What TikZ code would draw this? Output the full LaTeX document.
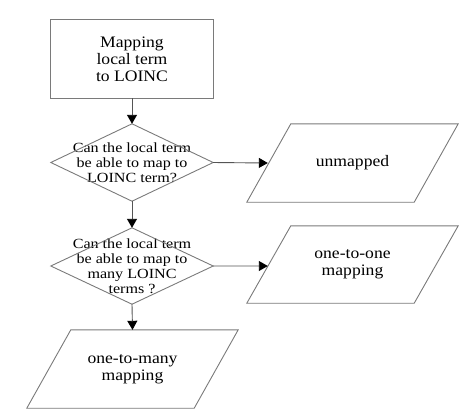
\documentclass[tikz,border=0pt]{standalone}
\usepackage{fontspec}
\setmainfont[FakeStretch=1.1]{Liberation Serif}
\newfontfamily\dfont[FakeStretch=1.15]{Liberation Serif}
\usetikzlibrary{arrows.meta,calc}
\definecolor{edge}{HTML}{7A7A7A}
\definecolor{arr}{HTML}{555555}
\tikzset{
  frame/.style={rectangle, inner sep=0pt, align=center},
  boxtxt/.style={font=\fontsize{16bp}{17bp}\selectfont},
  dtxt/.style={font=\dfont\fontsize{14bp}{15bp}\selectfont},
  outline/.style={draw=edge, line width=0.9bp},
  flow/.style={draw=arr, line width=0.9bp, -{Triangle[length=9bp,width=10bp,color=black]}}
}
\begin{document}
\begin{tikzpicture}[x=1bp,y=-1bp]
\useasboundingbox (0,0) rectangle (474,413);
% nodes (frames)
\node[frame, boxtxt, minimum width=162bp, minimum height=78bp] (b) at (132,59) {Mapping\\local term\\to LOINC};
\node[frame, dtxt, minimum width=162bp, minimum height=77bp] (d1) at (132,162.5) {Can the local term\\be able to map to\\LOINC term?};
\node[frame, dtxt, minimum width=162bp, minimum height=76bp] (d2) at (132,266) {Can the local term\\be able to map to\\many LOINC\\terms ?};
\node[frame, boxtxt, minimum width=211bp, minimum height=78bp] (p1) at (352.5,163) {unmapped};
\node[frame, boxtxt, minimum width=211bp, minimum height=77bp] (p2) at (352.5,264.5) {one-to-one\\mapping};
\node[frame, boxtxt, minimum width=211bp, minimum height=78bp] (p3) at (132.5,369) {one-to-many\\mapping};
% outlines
\draw[outline] (b.north west) rectangle (b.south east);
\draw[outline] (d1.north) -- (d1.east) -- (d1.south) -- (d1.west) -- cycle;
\draw[outline] (d2.north) -- (d2.east) -- (d2.south) -- (d2.west) -- cycle;
\foreach \p in {p1,p2,p3}{
  \draw[outline] ($(\p.north west)+(44,0)$) -- (\p.north east) -- ($(\p.south east)+(-44,0)$) -- (\p.south west) -- cycle;
}
\coordinate (p1in) at ($(p1.west)+(21,0)$);
\coordinate (p2in) at ($(p2.west)+(21,1.5)$);
% connectors
\draw[flow] (b.south) -- (d1.north);
\draw[flow] (d1.south) -- (d2.north);
\draw[flow] (d1.east) -- (p1in);
\draw[flow] (d2.east) -- (p2in);
\draw[flow] (d2.south) -- (p3.north);
\end{tikzpicture}
\end{document}
